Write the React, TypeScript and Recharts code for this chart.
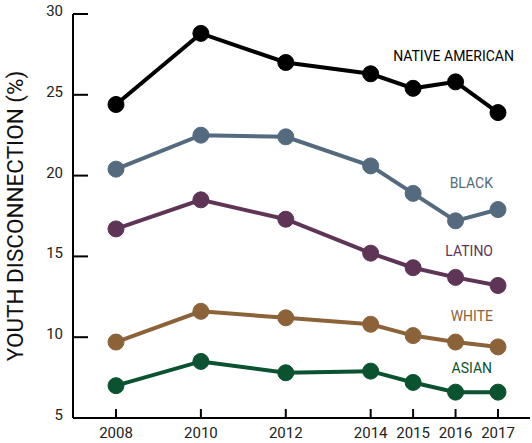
import { Line, LineChart, XAxis, YAxis } from "recharts";

const years = [2008, 2010, 2012, 2014, 2015, 2016, 2017];
const nativeAmerican = [24.4, 28.8, 27.0, 26.3, 25.4, 25.8, 23.9];
const black = [20.4, 22.5, 22.4, 20.6, 18.9, 17.2, 17.9];
const latino = [16.7, 18.5, 17.3, 15.2, 14.3, 13.7, 13.2];
const white = [9.7, 11.6, 11.2, 10.8, 10.1, 9.7, 9.4];
const asian = [7.0, 8.5, 7.8, 7.9, 7.2, 6.6, 6.6];
const yTicks = [5, 10, 15, 20, 25, 30];

const data = years.map((year, i) => ({
  year,
  nativeAmerican: nativeAmerican[i],
  black: black[i],
  latino: latino[i],
  white: white[i],
  asian: asian[i],
}));

const FONT = "Roboto, 'Liberation Sans', sans-serif";

// label is drawn next to the last point of each line
const series = [
  { key: "nativeAmerican", name: "NATIVE AMERICAN", color: "#000000", dx: 16, dy: -52 },
  { key: "black", name: "BLACK", color: "#546a7e", dx: -5, dy: -22 },
  { key: "latino", name: "LATINO", color: "#5e3556", dx: -5, dy: -29 },
  { key: "white", name: "WHITE", color: "#8c6239", dx: -5, dy: -26 },
  { key: "asian", name: "ASIAN", color: "#0b5230", dx: -6, dy: -19 },
];

const YTick = ({ x, y, payload }: any) => (
  <g>
    <text x={x} y={y + 2} textAnchor="end" fontSize={15} fontFamily={FONT} fill="#222">
      {payload.value}
    </text>
    <line x1={x + 10} x2={x + 25} y1={y} y2={y} stroke="#000" strokeWidth={2} />
  </g>
);

const XTick = ({ x, y, payload }: any) => (
  <g>
    <text x={x} y={y + 20} textAnchor="middle" fontSize={15} fontFamily={FONT} fill="#222">
      {payload.value}
    </text>
    <line x1={x} x2={x} y1={y - 9} y2={y} stroke="#000" strokeWidth={2} />
  </g>
);

const YTitle = ({ viewBox }: any) => {
  const cx = viewBox.x + 23;
  const cy = viewBox.y + viewBox.height / 2;
  return (
    <text
      x={cx}
      y={cy}
      transform={`rotate(-90, ${cx}, ${cy})`}
      textAnchor="middle"
      fontSize={22.5}
      fontFamily="'Liberation Sans Narrow', Roboto, sans-serif"
      fill="#111"
    >
      YOUTH DISCONNECTION (%)
    </text>
  );
};

export default function App() {
  return (
    <div style={{ position: "absolute", left: 0, top: 0 }}>
      <LineChart
        width={532}
        height={443}
        data={data}
        margin={{ top: 14, right: 2, bottom: 0, left: 0 }}
      >
        <XAxis
          dataKey="year"
          type="number"
          domain={[2008, 2017]}
          ticks={years}
          padding={{ left: 43, right: 32 }}
          height={25}
          tickSize={0}
          tickMargin={0}
          tick={<XTick />}
          axisLine={{ stroke: "#000", strokeWidth: 2 }}
        />
        <YAxis
          domain={[5, 30]}
          ticks={yTicks}
          width={73}
          tickSize={0}
          tickMargin={10}
          tick={<YTick />}
          axisLine={{ stroke: "#000", strokeWidth: 2 }}
          label={{ content: <YTitle /> }}
        />
        {series.map((s) => (
          <Line
            key={s.key}
            dataKey={s.key}
            name={s.name}
            stroke={s.color}
            strokeWidth={4}
            dot={{ r: 8, fill: s.color, stroke: s.color, strokeWidth: 1 }}
            activeDot={false}
            isAnimationActive={false}
            label={(p: any) =>
              p.index === years.length - 1 ? (
                <text
                  key={s.key}
                  x={p.x + s.dx}
                  y={p.y + s.dy}
                  textAnchor="end"
                  fontSize={14}
                  fontFamily={FONT}
                  fill={s.color}
                >
                  {s.name}
                </text>
              ) : null
            }
          />
        ))}
      </LineChart>
    </div>
  );
}
